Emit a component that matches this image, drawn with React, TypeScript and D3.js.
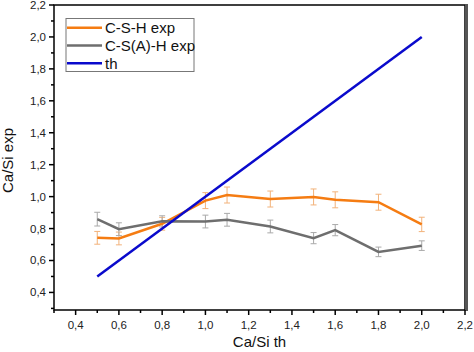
import React from 'react';
import * as d3 from 'd3';

// Ca/Si theoretical values (x)
const caSiTh = [0.5, 0.6, 0.8, 1.0, 1.1, 1.3, 1.5, 1.6, 1.8, 2.0];
const cshExp = [0.742, 0.738, 0.83, 0.975, 1.01, 0.985, 0.998, 0.98, 0.965, 0.826];
const cshErr = [0.04, 0.04, 0.04, 0.05, 0.05, 0.05, 0.05, 0.05, 0.05, 0.045];
const csahExp = [0.859, 0.796, 0.845, 0.844, 0.855, 0.813, 0.74, 0.79, 0.654, 0.693];
const csahErr = [0.043, 0.04, 0.035, 0.04, 0.04, 0.04, 0.035, 0.035, 0.03, 0.03];
const thLine = [0.5, 2.0];
const tickValues = [0.4, 0.6, 0.8, 1.0, 1.2, 1.4, 1.6, 1.8, 2.0, 2.2];
const minorTicks = [0.3, 0.5, 0.7, 0.9, 1.1, 1.3, 1.5, 1.7, 1.9, 2.1];
const legendLabels = ['C-S-H exp', 'C-S(A)-H exp', 'th'];

const font = '"Liberation Sans", Arial, sans-serif';
const fmt = (v: number) => v.toFixed(1).replace('.', ',');

const App = () => {
  const W = 474, H = 352;
  const m = { left: 54, right: 465, top: 5, bottom: 310 };

  const x = d3.scaleLinear().domain([0.3, 2.2]).range([m.left, m.right]);
  const y = d3.scaleLinear().domain([0.29, 2.2]).range([m.bottom, m.top]);

  const line = d3.line<[number, number]>().x(d => x(d[0])).y(d => y(d[1]));

  const series = [
    { vals: cshExp, err: cshErr, color: '#F57C12', errColor: '#F2B27A' },
    { vals: csahExp, err: csahErr, color: '#6E6E6E', errColor: '#A9A9A9' },
  ];
  const legendColors = ['#F57C12', '#6E6E6E', '#0A0ACC'];

  return (
    <svg width={W} height={H} style={{ position: 'absolute', left: 0, top: 0, background: '#fff' }} fontFamily={font}>
      {/* error bars */}
      {series.map((s, si) => (
        <g key={'e' + si} stroke={s.errColor} strokeWidth={1}>
          {caSiTh.map((xv, i) => {
            const cx = x(xv);
            const y1 = y(s.vals[i] + s.err[i]);
            const y2 = y(s.vals[i] - s.err[i]);
            return (
              <g key={i}>
                <line x1={cx} x2={cx} y1={y1} y2={y2} />
                <line x1={cx - 3} x2={cx + 3} y1={y1} y2={y1} />
                <line x1={cx - 3} x2={cx + 3} y1={y2} y2={y2} />
              </g>
            );
          })}
        </g>
      ))}
      {/* series lines */}
      {series.map((s, si) => (
        <path
          key={'l' + si}
          d={line(caSiTh.map((xv, i) => [xv, s.vals[i]] as [number, number])) || ''}
          fill="none"
          stroke={s.color}
          strokeWidth={2.5}
        />
      ))}
      <path
        d={line(thLine.map(v => [v, v] as [number, number])) || ''}
        fill="none"
        stroke="#0A0ACC"
        strokeWidth={2.5}
      />

      {/* frame */}
      <rect x={m.left} y={m.top} width={m.right - m.left} height={m.bottom - m.top} fill="none" stroke="#000" strokeWidth={1.5} />
      <line x1={m.right + 1.5} x2={m.right + 1.5} y1={m.top - 1} y2={m.bottom + 1} stroke="#555" strokeWidth={3} />

      {/* ticks */}
      <g stroke="#000" strokeWidth={1.5}>
        {tickValues.map(v => (
          <line key={'xt' + v} x1={x(v)} x2={x(v)} y1={m.bottom} y2={m.bottom + 5} />
        ))}
        {minorTicks.map(v => (
          <line key={'xm' + v} x1={x(v)} x2={x(v)} y1={m.bottom} y2={m.bottom + 3} />
        ))}
        {tickValues.map(v => (
          <line key={'yt' + v} x1={m.left - 5} x2={m.left} y1={y(v)} y2={y(v)} />
        ))}
        {minorTicks.map(v => (
          <line key={'ym' + v} x1={m.left - 3} x2={m.left} y1={y(v)} y2={y(v)} />
        ))}
      </g>
      <g fontSize={11.5} fill="#222">
        {tickValues.map(v => (
          <text key={'xl' + v} x={x(v)} y={m.bottom + 19} textAnchor="middle">{fmt(v)}</text>
        ))}
        {tickValues.map(v => (
          <text key={'yl' + v} x={m.left - 8} y={y(v) + 4} textAnchor="end">{fmt(v)}</text>
        ))}
      </g>

      {/* axis titles */}
      <text x={(m.left + m.right) / 2} y={347} textAnchor="middle" fontSize={15} fill="#111">Ca/Si th</text>
      <text transform={`translate(13,${(m.top + m.bottom) / 2 + 3}) rotate(-90)`} textAnchor="middle" fontSize={15} fill="#111">Ca/Si exp</text>

      {/* legend */}
      <rect x={66} y={18.5} width={128} height={53} fill="#fff" stroke="#777" strokeWidth={1} />
      {legendLabels.map((lab, i) => (
        <g key={lab} transform={`translate(0,${27.7 + i * 17.8})`}>
          <line x1={67} x2={102} y1={0} y2={0} stroke={legendColors[i]} strokeWidth={2.5} />
          <text x={105} y={5.2} fontSize={15} fill="#111">{lab}</text>
        </g>
      ))}
    </svg>
  );
};

export default App;
